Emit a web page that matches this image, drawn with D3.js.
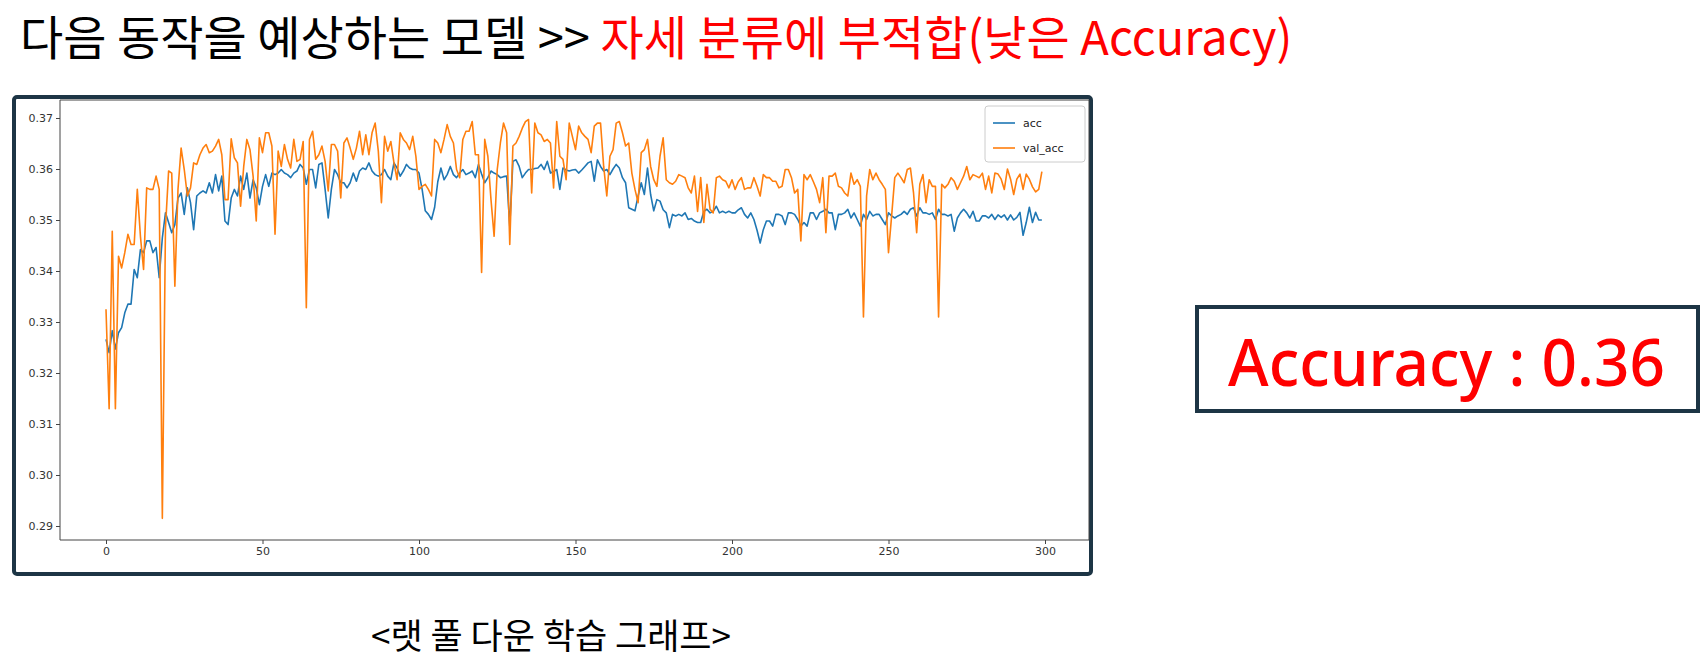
<!DOCTYPE html>
<html>
<head>
<meta charset="utf-8">
<script src="https://cdn.jsdelivr.net/npm/d3@7"></script>
<style>
  body { margin: 0; background: #fff; }
  svg { display: block; }
</style>
</head>
<body>
<div id="main"></div>
<script>
// one value per epoch (0..299)
var acc = [
  .3266,.324,.3283,.3247,.3279,.3289,.3318,.3335,.3335,.3403,
  .3387,.3442,.3436,.3459,.3459,.3436,.3446,.3387,.3465,.3514,
  .3495,.3475,.3491,.3543,.3553,.3511,.3563,.3534,.3481,.3547,
  .3553,.3557,.3553,.3573,.3553,.3589,.3557,.3586,.3498,.3491,
  .3543,.356,.3547,.3586,.356,.3592,.3543,.3579,.3563,.353,
  .3566,.3589,.3566,.3592,.3589,.3592,.3599,.3592,.3589,.3583,
  .3592,.3596,.3609,.3602,.357,.3599,.3599,.3563,.3609,.3612,
  .356,.3504,.356,.3599,.3589,.3573,.3573,.3563,.3573,.3592,
  .3576,.3596,.3602,.3599,.3612,.3596,.3589,.3586,.3589,.3599,
  .3586,.3579,.3612,.3602,.3586,.3596,.3609,.3602,.3599,.3599,
  .3592,.356,.3518,.3511,.3501,.3525,.3575,.3602,.3579,.3589,
  .3605,.3589,.3583,.3592,.3599,.3589,.3592,.3596,.3583,.3609,
  .359,.3573,.3583,.3596,.3592,.3589,.3583,.3585,.3586,.3488,
  .3615,.3618,.3605,.3583,.3592,.3599,.3599,.3601,.3602,.3609,
  .3599,.3615,.3592,.3595,.3599,.356,.3602,.3598,.3596,.3598,
  .3599,.3592,.3598,.3605,.3612,.3615,.3576,.3618,.3605,.3596,
  .3599,.3589,.36,.3609,.3602,.3583,.3573,.3524,.3521,.3518,
  .3547,.3573,.355,.3602,.355,.3518,.354,.3537,.352,.3514,
  .3485,.3511,.3508,.3511,.3508,.3514,.3501,.3503,.3498,.3495,
  .3495,.3517,.3521,.3514,.3517,.3527,.3514,.3517,.3514,.3517,
  .3514,.3514,.352,.3524,.3511,.3504,.3514,.3501,.348,.3455,
  .3481,.3498,.3498,.3488,.3511,.3511,.3508,.3491,.3514,.3514,
  .3511,.3501,.3488,.3495,.3488,.3514,.3514,.3501,.3514,.3517,
  .3521,.3514,.3514,.3481,.3511,.3511,.3514,.3521,.3504,.3514,
  .3501,.3488,.3511,.3501,.3517,.3508,.3511,.3511,.3501,.3491,
  .3514,.3508,.3504,.3508,.3511,.3517,.3511,.3521,.3524,.3508,
  .3524,.3514,.3514,.3511,.3514,.3501,.3521,.3511,.3511,.3508,
  .3511,.3478,.3504,.3514,.3521,.3514,.3504,.3517,.3498,.3498,
  .3508,.3508,.3504,.3511,.3501,.351,.3505,.351,.35,.351,
  .35,.3505,.3515,.347,.3495,.3525,.3495,.3515,.35,.35
];
var valAcc = [
  .3325,.313,.3478,.313,.3429,.3406,.3436,.3472,.3452,.3452,
  .356,.3468,.3403,.3563,.356,.356,.3586,.356,.2915,.3485,
  .3596,.3592,.337,.356,.3641,.3599,.3547,.3563,.3612,.3609,
  .3628,.3641,.3648,.3632,.3635,.3645,.3658,.3628,.354,.354,
  .3659,.3622,.3612,.3527,.3605,.3658,.3638,.3586,.3498,.3661,
  .3632,.3671,.3671,.3645,.3472,.3635,.3605,.3648,.3619,.3602,
  .3658,.3615,.3619,.3654,.3328,.3658,.3674,.3619,.3628,.3645,
  .3615,.3557,.3648,.3648,.3635,.3543,.3651,.3661,.3641,.3619,
  .3641,.3674,.3628,.3667,.3628,.3671,.369,.3635,.3534,.3664,
  .3635,.3654,.3612,.3579,.3671,.3658,.3651,.3638,.3664,.3625,
  .356,.3566,.357,.356,.3547,.3658,.3651,.3632,.3658,.3687,
  .3664,.3651,.3599,.3583,.3658,.3674,.3674,.3693,.3628,.3628,
  .3397,.3658,.3625,.354,.3468,.3599,.3651,.369,.3671,.3452,
  .3645,.3651,.3664,.368,.3693,.3697,.3553,.369,.3671,.3667,
  .3654,.3658,.3651,.3563,.3693,.3625,.3619,.3579,.369,.3664,
  .3638,.3684,.3671,.3664,.3658,.3632,.3684,.369,.369,.3605,
  .3547,.3625,.3638,.369,.3693,.3671,.3645,.3651,.3592,.356,
  .3534,.3632,.3638,.3658,.3605,.3579,.3566,.3625,.3661,.3579,
  .3573,.357,.3576,.3589,.3586,.3583,.3563,.3553,.3586,.3517,
  .3583,.3495,.357,.3521,.3514,.3583,.3586,.3579,.3576,.3563,
  .3579,.356,.3575,.3583,.356,.3563,.3563,.3583,.3566,.3547,
  .3589,.3583,.3583,.3576,.3576,.3563,.3566,.3599,.3599,.3583,
  .3553,.356,.3459,.3589,.3579,.3589,.3575,.356,.3534,.3583,
  .3475,.3586,.3586,.3592,.3566,.3563,.3553,.3547,.3592,.357,
  .3579,.3566,.331,.3547,.3599,.3579,.3592,.3579,.357,.356,
  .3436,.3508,.3583,.3592,.3583,.3573,.3599,.3602,.3553,.3475,
  .357,.3589,.3534,.3579,.3566,.3566,.331,.357,.3563,.357,
  .3583,.3576,.356,.3573,.3586,.3605,.3579,.3589,.3586,.3583,
  .3592,.356,.3586,.3553,.3592,.359,.358,.356,.36,.358,
  .355,.358,.359,.356,.359,.358,.3565,.3555,.356,.3595
];
var xTicks = [0, 50, 100, 150, 200, 250, 300];
var yTicks = [0.29, 0.30, 0.31, 0.32, 0.33, 0.34, 0.35, 0.36, 0.37];
var seriesNames = ["acc", "val_acc"];
var seriesColors = ["#1f77b4", "#ff7f0e"];

var ctx = { w: 1703, h: 662, left: 60, right: 1089, top: 100, bottom: 540 };
var kr = "'Noto Sans CJK KR', 'Noto Sans', sans-serif";

var svg = d3.select("#main").append("svg")
    .attr("width", ctx.w).attr("height", ctx.h);

// title
var title = svg.append("text")
    .attr("x", 20).attr("y", 55)
    .style("font-family", kr).style("font-size", "47px").style("font-weight", 400);
title.append("tspan").attr("fill", "#000").text("다음 동작을 예상하는 모델 >> ");
title.append("tspan").attr("fill", "#ff0000").text("자세 분류에 부적합(낮은 Accuracy)");

// chart frame
svg.append("rect")
    .attr("x", 14).attr("y", 97).attr("width", 1077).attr("height", 477)
    .attr("rx", 3).attr("fill", "#fff")
    .attr("stroke", "#1d3545").attr("stroke-width", 4);

var x = d3.scaleLinear().domain([0, 300]).range([106, 1045]);
var y = d3.scaleLinear().domain([0.30, 0.37]).range([475, 118]);

var axisFont = "'DejaVu Sans', sans-serif";
var gx = svg.append("g").attr("transform", "translate(0," + ctx.bottom + ")")
    .call(d3.axisBottom(x).tickValues(xTicks).tickSize(4).tickSizeOuter(0));
gx.select(".domain").attr("d", "M" + ctx.left + ",0H" + ctx.right);
var gy = svg.append("g").attr("transform", "translate(" + ctx.left + ",0)")
    .call(d3.axisLeft(y).tickValues(yTicks).tickFormat(d3.format(".2f")).tickSize(4).tickSizeOuter(0));
gy.select(".domain").attr("d", "M0," + ctx.top + "V" + ctx.bottom);
svg.selectAll(".tick text").style("font-family", axisFont).style("font-size", "11px").attr("fill", "#333");
svg.selectAll(".domain, .tick line").attr("stroke", "#444");
// top and right spines
svg.append("line").attr("x1", ctx.left).attr("x2", ctx.right).attr("y1", ctx.top).attr("y2", ctx.top).attr("stroke", "#444");
svg.append("line").attr("x1", ctx.right).attr("x2", ctx.right).attr("y1", ctx.top).attr("y2", ctx.bottom).attr("stroke", "#444");

var line = d3.line().x(function(d, i) { return x(i); }).y(function(d) { return y(d); });
[acc, valAcc].forEach(function(s, k) {
    svg.append("path").datum(s)
        .attr("d", line).attr("fill", "none")
        .attr("stroke", seriesColors[k]).attr("stroke-width", 1.6)
        .attr("stroke-linejoin", "round");
});

// legend
var legend = svg.append("g").attr("transform", "translate(985,106)");
legend.append("rect").attr("width", 100).attr("height", 56).attr("rx", 3)
    .attr("fill", "#fff").attr("stroke", "#ccc");
seriesNames.forEach(function(n, i) {
    legend.append("line").attr("x1", 8).attr("x2", 30).attr("y1", 17 + i * 25).attr("y2", 17 + i * 25)
        .attr("stroke", seriesColors[i]).attr("stroke-width", 1.6);
    legend.append("text").attr("x", 38).attr("y", 21 + i * 25).text(n)
        .style("font-family", axisFont).style("font-size", "11px").attr("fill", "#222");
});

// caption
svg.append("text").attr("x", 551).attr("y", 649).attr("text-anchor", "middle")
    .style("font-family", kr).style("font-size", "35px").style("font-weight", 400)
    .text("<랫 풀 다운 학습 그래프>");

// accuracy box
svg.append("rect").attr("x", 1197).attr("y", 307).attr("width", 501).attr("height", 104)
    .attr("fill", "#fff").attr("stroke", "#1d3545").attr("stroke-width", 4);
svg.append("text").attr("x", 1228).attr("y", 386)
    .attr("textLength", 437).attr("lengthAdjust", "spacingAndGlyphs")
    .style("font-family", "'Noto Sans', sans-serif").style("font-size", "66px").style("font-weight", 500)
    .attr("fill", "#ff0000").text("Accuracy : 0.36");
</script>
</body>
</html>
